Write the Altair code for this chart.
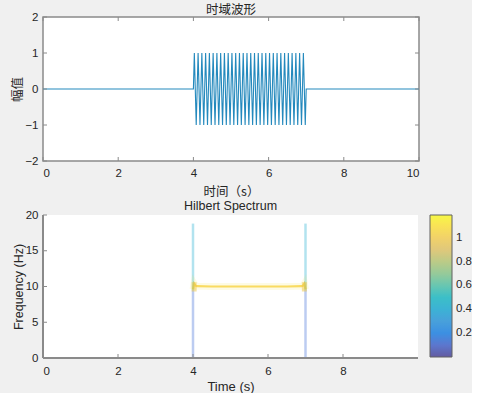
import altair as alt
import pandas as pd

# ---------------- data ----------------
# time-domain waveform: flat zero, 10 Hz burst between 4 s and 7 s (peak/trough points)
wave_t = [0.0, 4.0,
          4.025, 4.075, 4.125, 4.175, 4.225, 4.275, 4.325, 4.375, 4.425, 4.475,
          4.525, 4.575, 4.625, 4.675, 4.725, 4.775, 4.825, 4.875, 4.925, 4.975,
          5.025, 5.075, 5.125, 5.175, 5.225, 5.275, 5.325, 5.375, 5.425, 5.475,
          5.525, 5.575, 5.625, 5.675, 5.725, 5.775, 5.825, 5.875, 5.925, 5.975,
          6.025, 6.075, 6.125, 6.175, 6.225, 6.275, 6.325, 6.375, 6.425, 6.475,
          6.525, 6.575, 6.625, 6.675, 6.725, 6.775, 6.825, 6.875, 6.925, 6.975,
          7.0, 10.0]
wave_y = [0, 0,
          1, -1, 1, -1, 1, -1, 1, -1, 1, -1,
          1, -1, 1, -1, 1, -1, 1, -1, 1, -1,
          1, -1, 1, -1, 1, -1, 1, -1, 1, -1,
          1, -1, 1, -1, 1, -1, 1, -1, 1, -1,
          1, -1, 1, -1, 1, -1, 1, -1, 1, -1,
          1, -1, 1, -1, 1, -1, 1, -1, 1, -1,
          0, 0]

# Hilbert spectrum: instantaneous frequency ridge (time, freq, amplitude)
ridge_t = [4.0, 4.03, 4.06, 4.1, 4.5, 5.0, 5.5, 6.0, 6.5, 6.9, 6.94, 6.97, 7.0]
ridge_f = [9.6, 10.4, 10.15, 10.05, 10.0, 10.0, 10.0, 10.0, 10.0, 10.05, 10.15, 10.4, 9.6]
ridge_a = [1.03, 1.03, 1.03, 1.03, 1.03, 1.03, 1.03, 1.03, 1.03, 1.03, 1.03, 1.03, 1.03]

# short blobs at the ridge ends (time, freq bottom, freq top, amplitude)
end_t = [4.03, 6.97]
end_f1 = [9.3, 9.3]
end_f2 = [10.6, 10.6]
end_a = [0.98, 0.98]

# edge spikes at the burst start / end (time, freq bottom, freq top, amplitude)
spike_t = [4.0, 4.0, 7.0, 7.0]
spike_f1 = [0.0, 9.5, 0.0, 9.5]
spike_f2 = [9.5, 18.8, 9.5, 18.8]
spike_a = [0.12, 0.42, 0.12, 0.42]

x_ticks = [0, 2, 4, 6, 8, 10]
y_ticks_top = [-2, -1, 0, 1, 2]
x_ticks_bot = [0, 2, 4, 6, 8]
y_ticks_bot = [0, 5, 10, 15, 20]
cbar_ticks = [0.2, 0.4, 0.6, 0.8, 1.0]

parula = ["#352a87", "#0363e1", "#1485d4", "#06a7c6", "#38b99e",
          "#92bf73", "#d9ba56", "#fcce2e", "#f9fb0e"]
cmax = 1.19
cdomain = [cmax * i / 8 for i in range(9)]

LINE = "#2489bd"
AX = "#8a8a8a"
TXT = "#262626"
SANS = "Liberation Sans"
CJK = "Noto Sans CJK SC"

W1, H1 = 376, 144
W2, H2 = 375, 143

wave_df = pd.DataFrame({"t": wave_t, "y": wave_y})
ridge_df = pd.DataFrame({"t": ridge_t, "f": ridge_f, "a": ridge_a})
end_df = pd.DataFrame({"t": end_t, "f1": end_f1, "f2": end_f2, "a": end_a})
spike_df = pd.DataFrame({"t": spike_t, "f1": spike_f1, "f2": spike_f2, "a": spike_a})

xs1 = alt.Scale(domain=[0, 10], nice=False, zero=False)
ys1 = alt.Scale(domain=[-2, 2], nice=False)
xs2 = alt.Scale(domain=[0, 10], nice=False, zero=False)
ys2 = alt.Scale(domain=[0, 20], nice=False)

axis_common = dict(grid=False, ticks=False, domain=False, labelFont=SANS, labelFontSize=11.5,
                   labelColor=TXT, titleColor=TXT, titleFontWeight="normal", labelOverlap=False)

xa1 = alt.Axis(values=x_ticks, title="时间（s）", titleFont=CJK, titleFontSize=12.5,
               labelPadding=6, titlePadding=7, **axis_common)
ya1 = alt.Axis(values=y_ticks_top, title="幅值", titleFont=CJK, titleFontSize=12.5,
               labelPadding=5, titlePadding=0, **axis_common)
xa2 = alt.Axis(values=x_ticks_bot, title="Time (s)", titleFont=SANS, titleFontSize=13,
               labelPadding=7, titlePadding=4, **axis_common)
ya2 = alt.Axis(values=y_ticks_bot, title="Frequency (Hz)", titleFont=SANS, titleFontSize=12.5,
               labelPadding=5, titlePadding=0, **axis_common)

# ---------- top panel ----------
wave = alt.Chart(wave_df).mark_line(color=LINE, strokeWidth=1.1).encode(
    x=alt.X("t:Q", scale=xs1, axis=xa1),
    y=alt.Y("y:Q", scale=ys1, axis=ya1),
    order="t:Q",
)

xt1 = pd.DataFrame({"v": x_ticks})
yt1 = pd.DataFrame({"v": y_ticks_top})
tb = alt.Chart(xt1).mark_rule(color=AX, strokeWidth=1).encode(
    x=alt.X("v:Q", scale=xs1, axis=xa1), y=alt.value(H1), y2=alt.value(H1 - 4))
tt = alt.Chart(xt1).mark_rule(color=AX, strokeWidth=1).encode(
    x=alt.X("v:Q", scale=xs1, axis=xa1), y=alt.value(0), y2=alt.value(4))
tl = alt.Chart(yt1).mark_rule(color=AX, strokeWidth=1).encode(
    y=alt.Y("v:Q", scale=ys1, axis=ya1), x=alt.value(0), x2=alt.value(4))
tr = alt.Chart(yt1).mark_rule(color=AX, strokeWidth=1).encode(
    y=alt.Y("v:Q", scale=ys1, axis=ya1), x=alt.value(W1), x2=alt.value(W1 - 4))

top = alt.layer(wave, tb, tt, tl, tr).properties(
    width=W1, height=H1,
    title=alt.TitleParams("时域波形", font=CJK, fontSize=12.5, fontWeight="normal", color=TXT,
                          offset=-5, frame="group"),
)

# ---------- bottom panel ----------
cscale = alt.Scale(domain=cdomain, range=parula)
legend = alt.Legend(title=None, type="gradient", orient="right", offset=12, padding=0,
                    values=cbar_ticks, gradientLength=142, gradientThickness=22,
                    gradientStrokeColor="#333333", gradientStrokeWidth=1,
                    labelFont=SANS, labelFontSize=11.5, labelColor=TXT,
                    labelOffset=4, labelOverlap=False, format="g")

ridge = alt.Chart(ridge_df).mark_line(strokeWidth=2.2, opacity=0.75).encode(
    x=alt.X("t:Q", scale=xs2, axis=xa2),
    y=alt.Y("f:Q", scale=ys2, axis=ya2),
    color=alt.Color("a:Q", scale=cscale, legend=legend),
    order="t:Q",
)

spikes = alt.Chart(spike_df).mark_rule(strokeWidth=2.5, opacity=0.3).encode(
    x=alt.X("t:Q", scale=xs2, axis=xa2),
    y=alt.Y("f1:Q", scale=ys2, axis=ya2),
    y2="f2:Q",
    color=alt.Color("a:Q", scale=cscale, legend=legend),
)

halo = alt.Chart(ridge_df).mark_line(strokeWidth=7, opacity=0.15, color="#f3e24a").encode(
    x=alt.X("t:Q", scale=xs2, axis=xa2), y=alt.Y("f:Q", scale=ys2, axis=ya2), order="t:Q")

ends = alt.Chart(end_df).mark_rule(strokeWidth=5, opacity=0.5).encode(
    x=alt.X("t:Q", scale=xs2, axis=xa2),
    y=alt.Y("f1:Q", scale=ys2, axis=ya2),
    y2="f2:Q",
    color=alt.Color("a:Q", scale=cscale, legend=legend),
)

xt2 = pd.DataFrame({"v": x_ticks_bot})
yt2 = pd.DataFrame({"v": y_ticks_bot})
tb2 = alt.Chart(xt2).mark_rule(color=AX, strokeWidth=1).encode(
    x=alt.X("v:Q", scale=xs2, axis=xa2), y=alt.value(H2), y2=alt.value(H2 - 4))
tl2 = alt.Chart(yt2).mark_rule(color=AX, strokeWidth=1).encode(
    y=alt.Y("v:Q", scale=ys2, axis=ya2), x=alt.value(0), x2=alt.value(4))
# left & bottom axis lines of the lower panel
lb = alt.Chart(yt2).mark_rule(color=AX, strokeWidth=1.5).encode(
    x=alt.value(0), y=alt.value(0), y2=alt.value(H2))
bb = alt.Chart(yt2).mark_rule(color=AX, strokeWidth=1.5).encode(
    x=alt.value(0), x2=alt.value(W2), y=alt.value(H2))

bottom = alt.layer(ridge, spikes, halo, ends, tb2, tl2, lb, bb).properties(
    width=W2, height=H2, view=alt.ViewBackground(stroke=None, fill="white"),
    title=alt.TitleParams("Hilbert Spectrum", font=SANS, fontSize=12.5, fontWeight="normal",
                          color=TXT, offset=-3, frame="group"),
)

chart = alt.vconcat(top, bottom, spacing=0).resolve_scale(
    color="independent"
).resolve_legend(
    color="independent"
).properties(
    padding={"left": 11, "top": 2, "right": 0, "bottom": 0},
    background="#f0f0f0",
).configure_view(
    fill="white", stroke=AX, strokeWidth=1.5
)

chart.save("out.html", embed_options={"renderer": "svg", "actions": False})
